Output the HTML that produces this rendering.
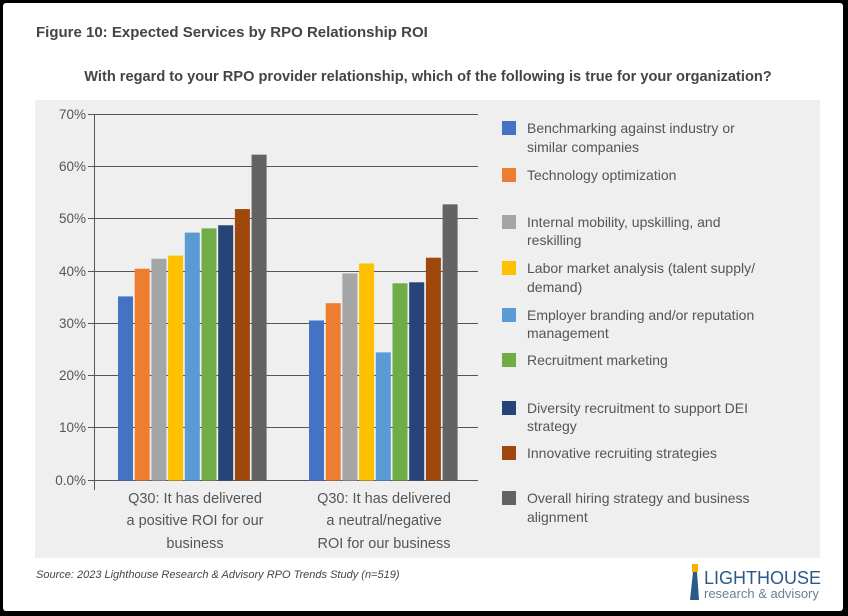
<!DOCTYPE html>
<html><head><meta charset="utf-8"><style>
body{margin:0;width:848px;height:616px;background:#000;font-family:"Liberation Sans",sans-serif;overflow:hidden}
#w{position:absolute;left:3px;top:3px;width:840px;height:608px;background:#fff;border-radius:3px}
</style></head><body><div id="w"></div>
<svg width="848" height="616" style="position:absolute;left:0;top:0" font-family="Liberation Sans, sans-serif">
<text x="36" y="37" font-size="15" font-weight="bold" fill="#444">Figure 10: Expected Services by RPO Relationship ROI</text>
<text x="428" y="81" font-size="14.6" font-weight="bold" fill="#444" text-anchor="middle">With regard to your RPO provider relationship, which of the following is true for your organization?</text>
<rect x="35" y="100" width="785" height="458" fill="#efefef"/>
<g stroke="#555" stroke-width="1">
<line x1="88" y1="114.5" x2="478" y2="114.5"/><line x1="88" y1="166.5" x2="478" y2="166.5"/><line x1="88" y1="218.5" x2="478" y2="218.5"/><line x1="88" y1="271.5" x2="478" y2="271.5"/><line x1="88" y1="323.5" x2="478" y2="323.5"/><line x1="88" y1="375.5" x2="478" y2="375.5"/><line x1="88" y1="427.5" x2="478" y2="427.5"/><line x1="88" y1="480.5" x2="478" y2="480.5"/>
<line x1="94.5" y1="114" x2="94.5" y2="490"/>
</g>
<g font-size="13.5" fill="#555" text-anchor="end">
<text x="86" y="119">70%</text><text x="86" y="171">60%</text><text x="86" y="223">50%</text><text x="86" y="276">40%</text><text x="86" y="328">30%</text><text x="86" y="380">20%</text><text x="86" y="432">10%</text><text x="86" y="485">0.0%</text>
</g>
<g id="bars"></g>
<g font-size="14.5" fill="#555" text-anchor="middle">
<text x="195" y="503">Q30: It has delivered</text><text x="195" y="525">a positive ROI for our</text><text x="195" y="548">business</text>
<text x="384" y="503">Q30: It has delivered</text><text x="384" y="525">a neutral/negative</text><text x="384" y="548">ROI for our business</text>
</g>
<g font-size="14" fill="#555">
<rect x="502" y="121" width="14" height="14" fill="#4472c4"/><text x="527" y="133">Benchmarking against industry or</text><text x="527" y="152">similar companies</text>
<rect x="502" y="168" width="14" height="14" fill="#ed7d31"/><text x="527" y="180">Technology optimization</text>
<rect x="502" y="215" width="14" height="14" fill="#a5a5a5"/><text x="527" y="227">Internal mobility, upskilling, and</text><text x="527" y="245">reskilling</text>
<rect x="502" y="261" width="14" height="14" fill="#ffc000"/><text x="527" y="273">Labor market analysis (talent supply/</text><text x="527" y="292">demand)</text>
<rect x="502" y="308" width="14" height="14" fill="#5b9bd5"/><text x="527" y="320">Employer branding and/or reputation</text><text x="527" y="338">management</text>
<rect x="502" y="353" width="14" height="14" fill="#70ad47"/><text x="527" y="365">Recruitment marketing</text>
<rect x="502" y="401" width="14" height="14" fill="#264478"/><text x="527" y="413">Diversity recruitment to support DEI</text><text x="527" y="431">strategy</text>
<rect x="502" y="446" width="14" height="14" fill="#9e480e"/><text x="527" y="458">Innovative recruiting strategies</text>
<rect x="502" y="491" width="14" height="14" fill="#636363"/><text x="527" y="503">Overall hiring strategy and business</text><text x="527" y="522">alignment</text>
</g>
<text x="36" y="578" font-size="11" font-style="italic" fill="#444">Source: 2023 Lighthouse Research &amp; Advisory RPO Trends Study (n=519)</text>
<path d="M690 600 L693 572 L697 572 L699 600 Z" fill="#2b5a8a"/><rect x="692" y="564" width="6" height="8" fill="#f0b400"/>
<text x="704" y="584" font-size="18" fill="#2b5a8a">LIGHTHOUSE</text>
<text x="704" y="598" font-size="13" fill="#6a7f99">research &amp; advisory</text>
</svg>
<script>
var c=["#4472c4","#ed7d31","#a5a5a5","#ffc000","#5b9bd5","#70ad47","#264478","#9e480e","#636363"];
var d=[[35.2,40.5,42.4,43,47.4,48.2,48.8,51.9,62.3],[30.6,33.9,39.6,41.5,24.5,37.7,37.9,42.6,52.8]];
var s="";var st=[118,309];
for(var g=0;g<2;g++)for(var i=0;i<9;i++){var h=d[g][i]*5.23;s+='<rect x="'+(st[g]+i*16.7)+'" y="'+(480.5-h)+'" width="15" height="'+h+'" fill="'+c[i]+'"/>';}
document.getElementById("bars").innerHTML=s;
</script>
</body></html>
